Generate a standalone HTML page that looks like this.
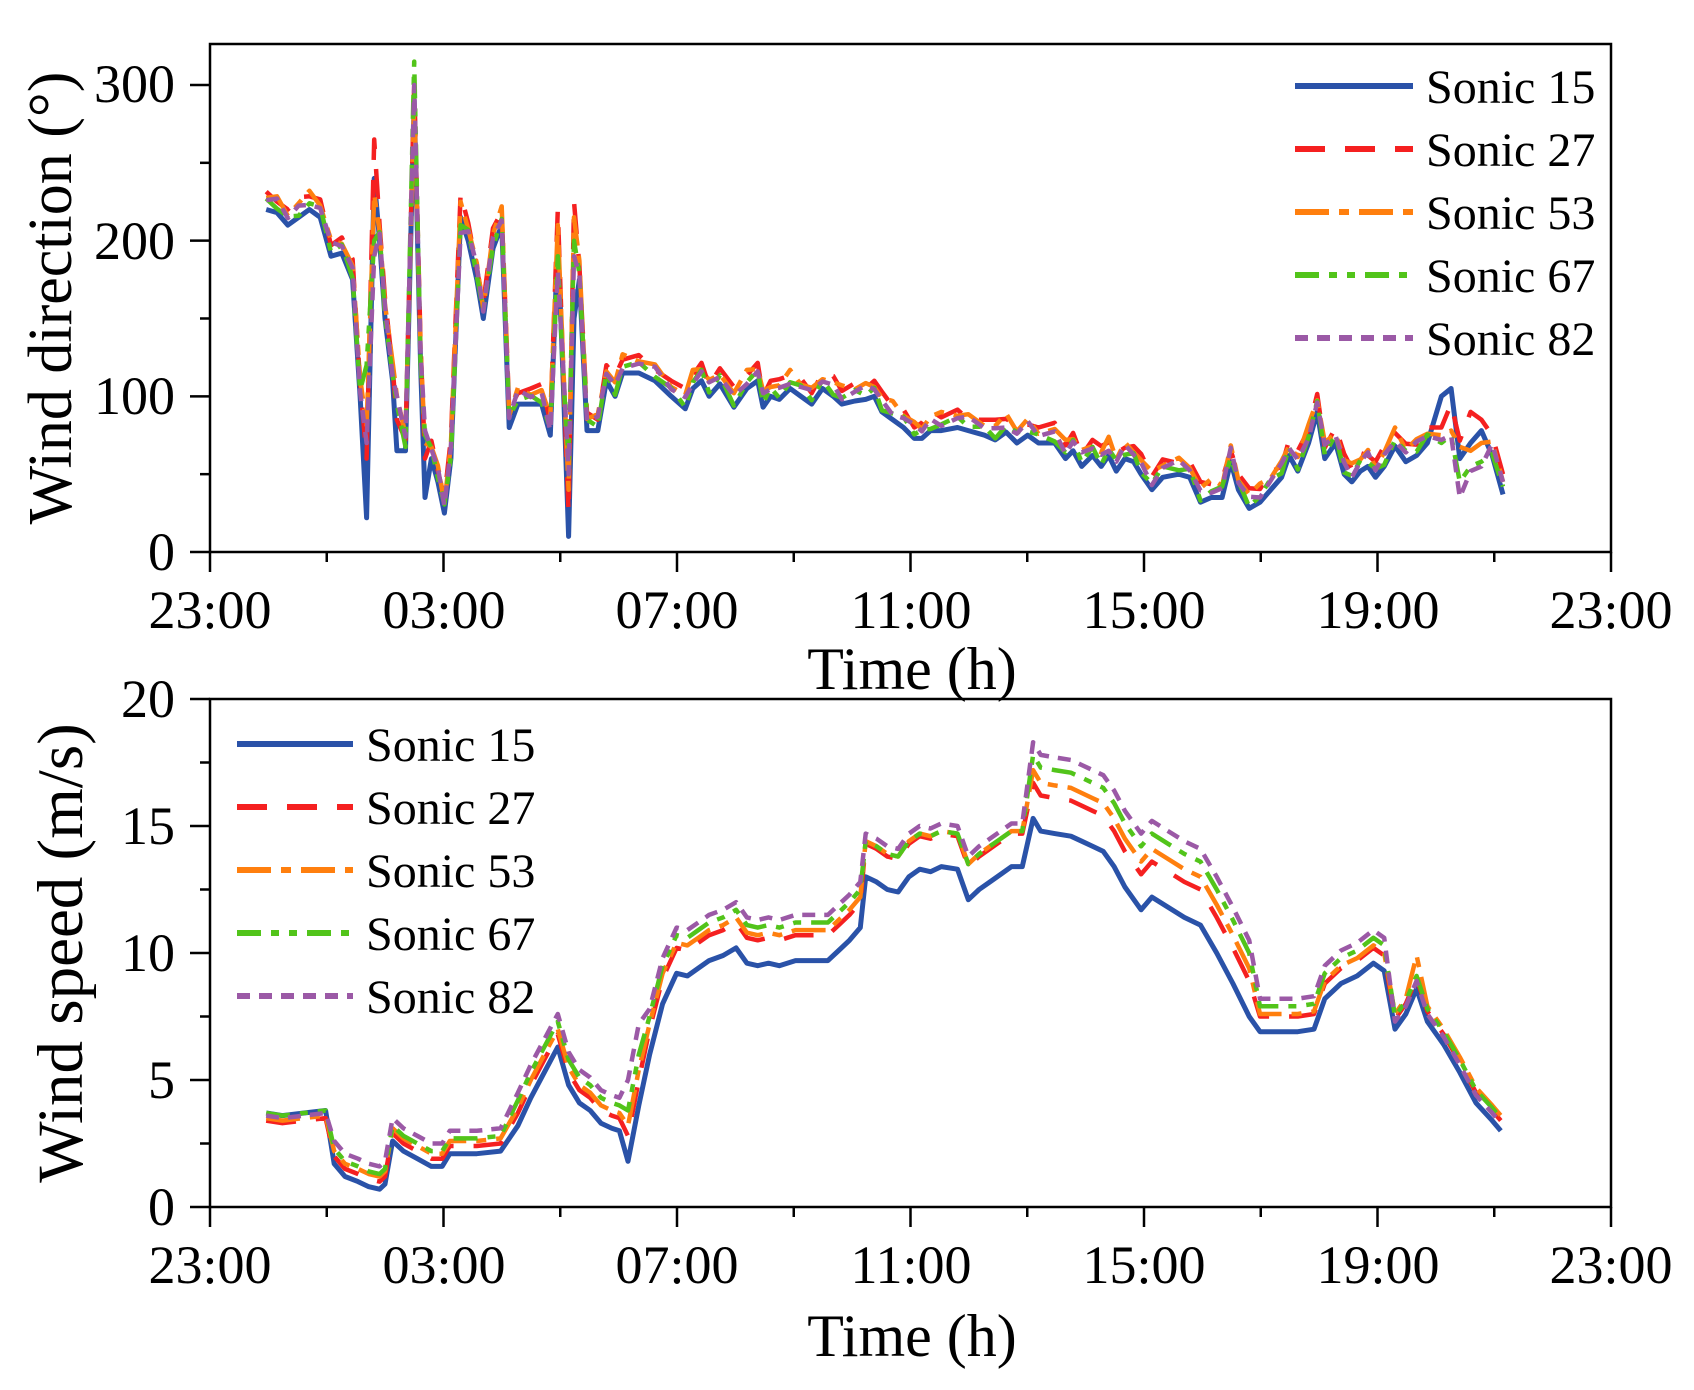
<!DOCTYPE html>
<html><head><meta charset="utf-8"><style>
html,body{margin:0;padding:0;background:#fff}
svg{display:block}
text{font-family:"Liberation Serif",serif;fill:#000}
</style></head><body>
<svg id="s" width="1694" height="1390" viewBox="0 0 1694 1390" xmlns="http://www.w3.org/2000/svg">
<rect width="1694" height="1390" fill="#fff"/>
<g id="series"></g>
<rect x="210" y="44" width="1401" height="508" fill="none" stroke="#000" stroke-width="2.5"/>
<rect x="210" y="699" width="1401" height="508" fill="none" stroke="#000" stroke-width="2.5"/>
<g id="ticks" stroke="#000" stroke-width="2.5"></g>
<g font-size="54" text-anchor="end">
<text x="175" y="570">0</text>
<text x="175" y="414">100</text>
<text x="175" y="259">200</text>
<text x="175" y="102">300</text>
<text x="175" y="1225">0</text>
<text x="175" y="1098">5</text>
<text x="175" y="971">10</text>
<text x="175" y="844">15</text>
<text x="175" y="717">20</text>
</g>
<g font-size="54" text-anchor="middle">
<text x="210" y="628">23:00</text><text x="444" y="628">03:00</text><text x="677" y="628">07:00</text><text x="911" y="628">11:00</text><text x="1144" y="628">15:00</text><text x="1378" y="628">19:00</text><text x="1611" y="628">23:00</text>
<text x="210" y="1283">23:00</text><text x="444" y="1283">03:00</text><text x="677" y="1283">07:00</text><text x="911" y="1283">11:00</text><text x="1144" y="1283">15:00</text><text x="1378" y="1283">19:00</text><text x="1611" y="1283">23:00</text>
</g>
<g font-size="60" text-anchor="middle">
<text x="912" y="689">Time (h)</text>
<text x="912" y="1356">Time (h)</text>
</g>
<text font-size="62" text-anchor="middle" transform="translate(71,298) rotate(-90)">Wind direction (°)</text>
<text font-size="65" text-anchor="middle" transform="translate(82,953) rotate(-90)">Wind speed (m/s)</text>
<g id="leg1"></g>
<g font-size="48">
<text x="1426" y="103">Sonic 15</text>
<text x="1426" y="166">Sonic 27</text>
<text x="1426" y="229">Sonic 53</text>
<text x="1426" y="292">Sonic 67</text>
<text x="1426" y="355">Sonic 82</text>
<text x="366" y="761">Sonic 15</text>
<text x="366" y="824">Sonic 27</text>
<text x="366" y="887">Sonic 53</text>
<text x="366" y="950">Sonic 67</text>
<text x="366" y="1013">Sonic 82</text>
</g>
</svg>
<script>
(function(){
var NS="http://www.w3.org/2000/svg";
function el(p,n,a){var e=document.createElementNS(NS,n);for(var k in a)e.setAttribute(k,a[k]);p.appendChild(e);return e;}
var S=[
 {c:"#2a52a8",d:"",w:5},
 {c:"#f52020",d:"30 20",w:4.5},
 {c:"#ff7f0e",d:"34 10 10 10",w:4.5},
 {c:"#52c41a",d:"24 10 8 10 8 10",w:4.5},
 {c:"#9b59a6",d:"13 9",w:4.5}];
var B=1207,K=25.4;
var ticks=document.getElementById("ticks");
for(var k=0;k<=12;k++){var x=210+k*1401/12;var L=(k%2==0)?20:10;
 el(ticks,"line",{x1:x,y1:552,x2:x,y2:552+L});el(ticks,"line",{x1:x,y1:B,x2:x,y2:B+L});}
for(var v=0;v<=300;v+=50){var y=552-v*1.5567;var L=(v%100==0)?20:10;el(ticks,"line",{x1:210,y1:y,x2:210-L,y2:y});}
for(var v=0;v<=20;v+=2.5){var y=B-v*K;var L=(v%5==0)?20:10;el(ticks,"line",{x1:210,y1:y,x2:210-L,y2:y});}
var lg=document.getElementById("leg1");
for(var i=0;i<5;i++){
 el(lg,"line",{x1:1295,y1:86+63*i,x2:1413,y2:86+63*i,stroke:S[i].c,"stroke-width":6,"stroke-dasharray":S[i].d});
 el(lg,"line",{x1:237,y1:744+63*i,x2:353,y2:744+63*i,stroke:S[i].c,"stroke-width":6,"stroke-dasharray":S[i].d});
}
function X(dx){return 210+(dx-193)*1.0802;}
var top=[[245,220],[255,218],[265,210],[275,215],[285,220],[295,215],[305,190],[315,192],[325,175],[332,100],[338,22],[345,240],[350,200],[355,150],[362,110],[366,65],[374,65],[382,290],[388,120],[392,35],[398,60],[404,45],[410,25],[416,60],[425,215],[432,200],[440,175],[446,150],[455,195],[463,210],[470,80],[478,95],[490,95],[500,95],[508,75],[515,200],[520,110],[525,10],[530,150],[535,175],[542,78],[552,78],[560,110],[568,100],[575,115],[590,115],[605,110],[620,100],[633,92],[640,105],[648,110],[655,100],[665,108],[678,93],[690,105],[700,110],[705,93],[712,100],[720,98],[730,105],[740,100],[750,95],[760,105],[770,100],[778,95],[790,97],[800,98],[808,100],[815,90],[825,85],[835,80],[845,73],[852,73],[860,78],[870,78],[885,80],[895,78],[910,75],[920,72],[930,77],[940,70],[950,75],[960,70],[975,70],[985,60],[992,65],[1000,55],[1010,62],[1018,55],[1025,62],[1032,52],[1040,60],[1048,58],[1055,50],[1065,40],[1075,48],[1090,50],[1100,48],[1110,32],[1120,35],[1130,35],[1138,58],[1145,40],[1155,28],[1165,32],[1175,40],[1185,48],[1192,62],[1200,52],[1210,70],[1218,90],[1225,60],[1235,70],[1243,50],[1250,45],[1258,52],[1265,55],[1272,48],[1280,55],[1290,68],[1300,58],[1310,62],[1320,70],[1333,100],[1342,105],[1350,60],[1360,70],[1370,78],[1380,62],[1390,37]];
var ovr=[{},
 {338:60,345:265,366:85,382:300,392:60,425:230,515:220,525:25,530:225,1333:80,1342:95,1360:90,1370:85,1390:50},
 {338:80,345:230,366:100,382:290,392:70,425:225,515:210,525:40,530:215,1333:75,1342:78,1360:65,1370:70,1390:45},
 {338:120,345:200,366:95,382:315,392:75,425:210,515:190,525:60,530:200,1333:70,1342:75,1350:45,1360:55,1370:58,1390:42},
 {338:70,345:190,366:100,382:300,392:78,425:205,515:180,525:50,530:190,1333:72,1342:75,1350:35,1360:52,1370:55,1390:45}];
var topOff=[0,10,9,4,6];
var bot=[[245,3.7],[260,3.6],[280,3.7],[300,3.8],[308,1.7],[318,1.2],[330,1.0],[340,0.8],[350,0.7],[355,0.9],[362,2.6],[372,2.2],[385,1.9],[398,1.6],[408,1.6],[415,2.1],[440,2.1],[462,2.2],[478,3.2],[490,4.3],[505,5.5],[515,6.3],[525,4.8],[535,4.1],[545,3.8],[555,3.3],[565,3.1],[572,3.0],[580,1.8],[590,4.0],[600,6.0],[612,8.0],[625,9.2],[635,9.1],[645,9.4],[655,9.7],[668,9.9],[680,10.2],[690,9.6],[700,9.5],[710,9.6],[720,9.5],[735,9.7],[750,9.7],[765,9.7],[775,10.1],[785,10.5],[795,11.0],[800,13.0],[810,12.8],[820,12.5],[830,12.4],[840,13.0],[850,13.3],[860,13.2],[870,13.4],[885,13.3],[895,12.1],[905,12.5],[915,12.8],[925,13.1],[935,13.4],[945,13.4],[955,15.3],[962,14.8],[975,14.7],[990,14.6],[1000,14.4],[1010,14.2],[1020,14.0],[1030,13.4],[1040,12.6],[1055,11.7],[1065,12.2],[1080,11.8],[1095,11.4],[1110,11.1],[1125,10.0],[1140,8.8],[1155,7.5],[1165,6.9],[1180,6.9],[1200,6.9],[1215,7.0],[1225,8.2],[1240,8.8],[1255,9.1],[1270,9.6],[1280,9.3],[1290,7.0],[1300,7.6],[1310,8.6],[1320,7.3],[1335,6.4],[1350,5.3],[1365,4.1],[1380,3.4],[1388,3.0]];
function boff(dx,i){
 var base;
 if(dx<305)base=[0,-0.3,-0.2,0,-0.1][i];
 else if(dx<470)base=[0,0.3,0.5,0.6,0.9][i];
 else if(dx<575)base=[0,0.5,0.7,1.0,1.3][i];
 else if(dx<595)base=[0,1.0,1.4,2.0,3.2][i];
 else if(dx<800)base=[0,1.0,1.2,1.5,1.8][i];
 else if(dx<955)base=[0,1.3,1.4,1.4,1.7][i];
 else if(dx<1160)base=[0,1.4,1.9,2.5,3.0][i];
 else if(dx<1290)base=[0,0.6,0.7,1.0,1.3][i];
 else base=[0,0.4,0.6,0.5,0.3][i];
 if(dx==1310&&i==2)base=1.3;
 return base;}
var g=document.getElementById("series");
for(var i=0;i<5;i++){
 var p="";
 for(var j=0;j<top.length;j++){var dx=top[j][0],v=top[j][1];
  if(i>0){v=(ovr[i][dx]!==undefined)?ovr[i][dx]:v+topOff[i]+((j*7+i*3)%5-2)*1.5;}
  p+=(j?"L":"M")+X(dx).toFixed(1)+" "+(552-v*1.5567).toFixed(1);}
 el(g,"path",{d:p,fill:"none",stroke:S[i].c,"stroke-width":S[i].w,"stroke-dasharray":S[i].d,"stroke-linejoin":"round"});
 var q="";
 for(var j=0;j<bot.length;j++){var dx=bot[j][0],v=bot[j][1]+boff(dx,i);
  q+=(j?"L":"M")+X(dx).toFixed(1)+" "+(B-v*K).toFixed(1);}
 el(g,"path",{d:q,fill:"none",stroke:S[i].c,"stroke-width":S[i].w,"stroke-dasharray":S[i].d,"stroke-linejoin":"round"});
}
})();
</script>
</body></html>
